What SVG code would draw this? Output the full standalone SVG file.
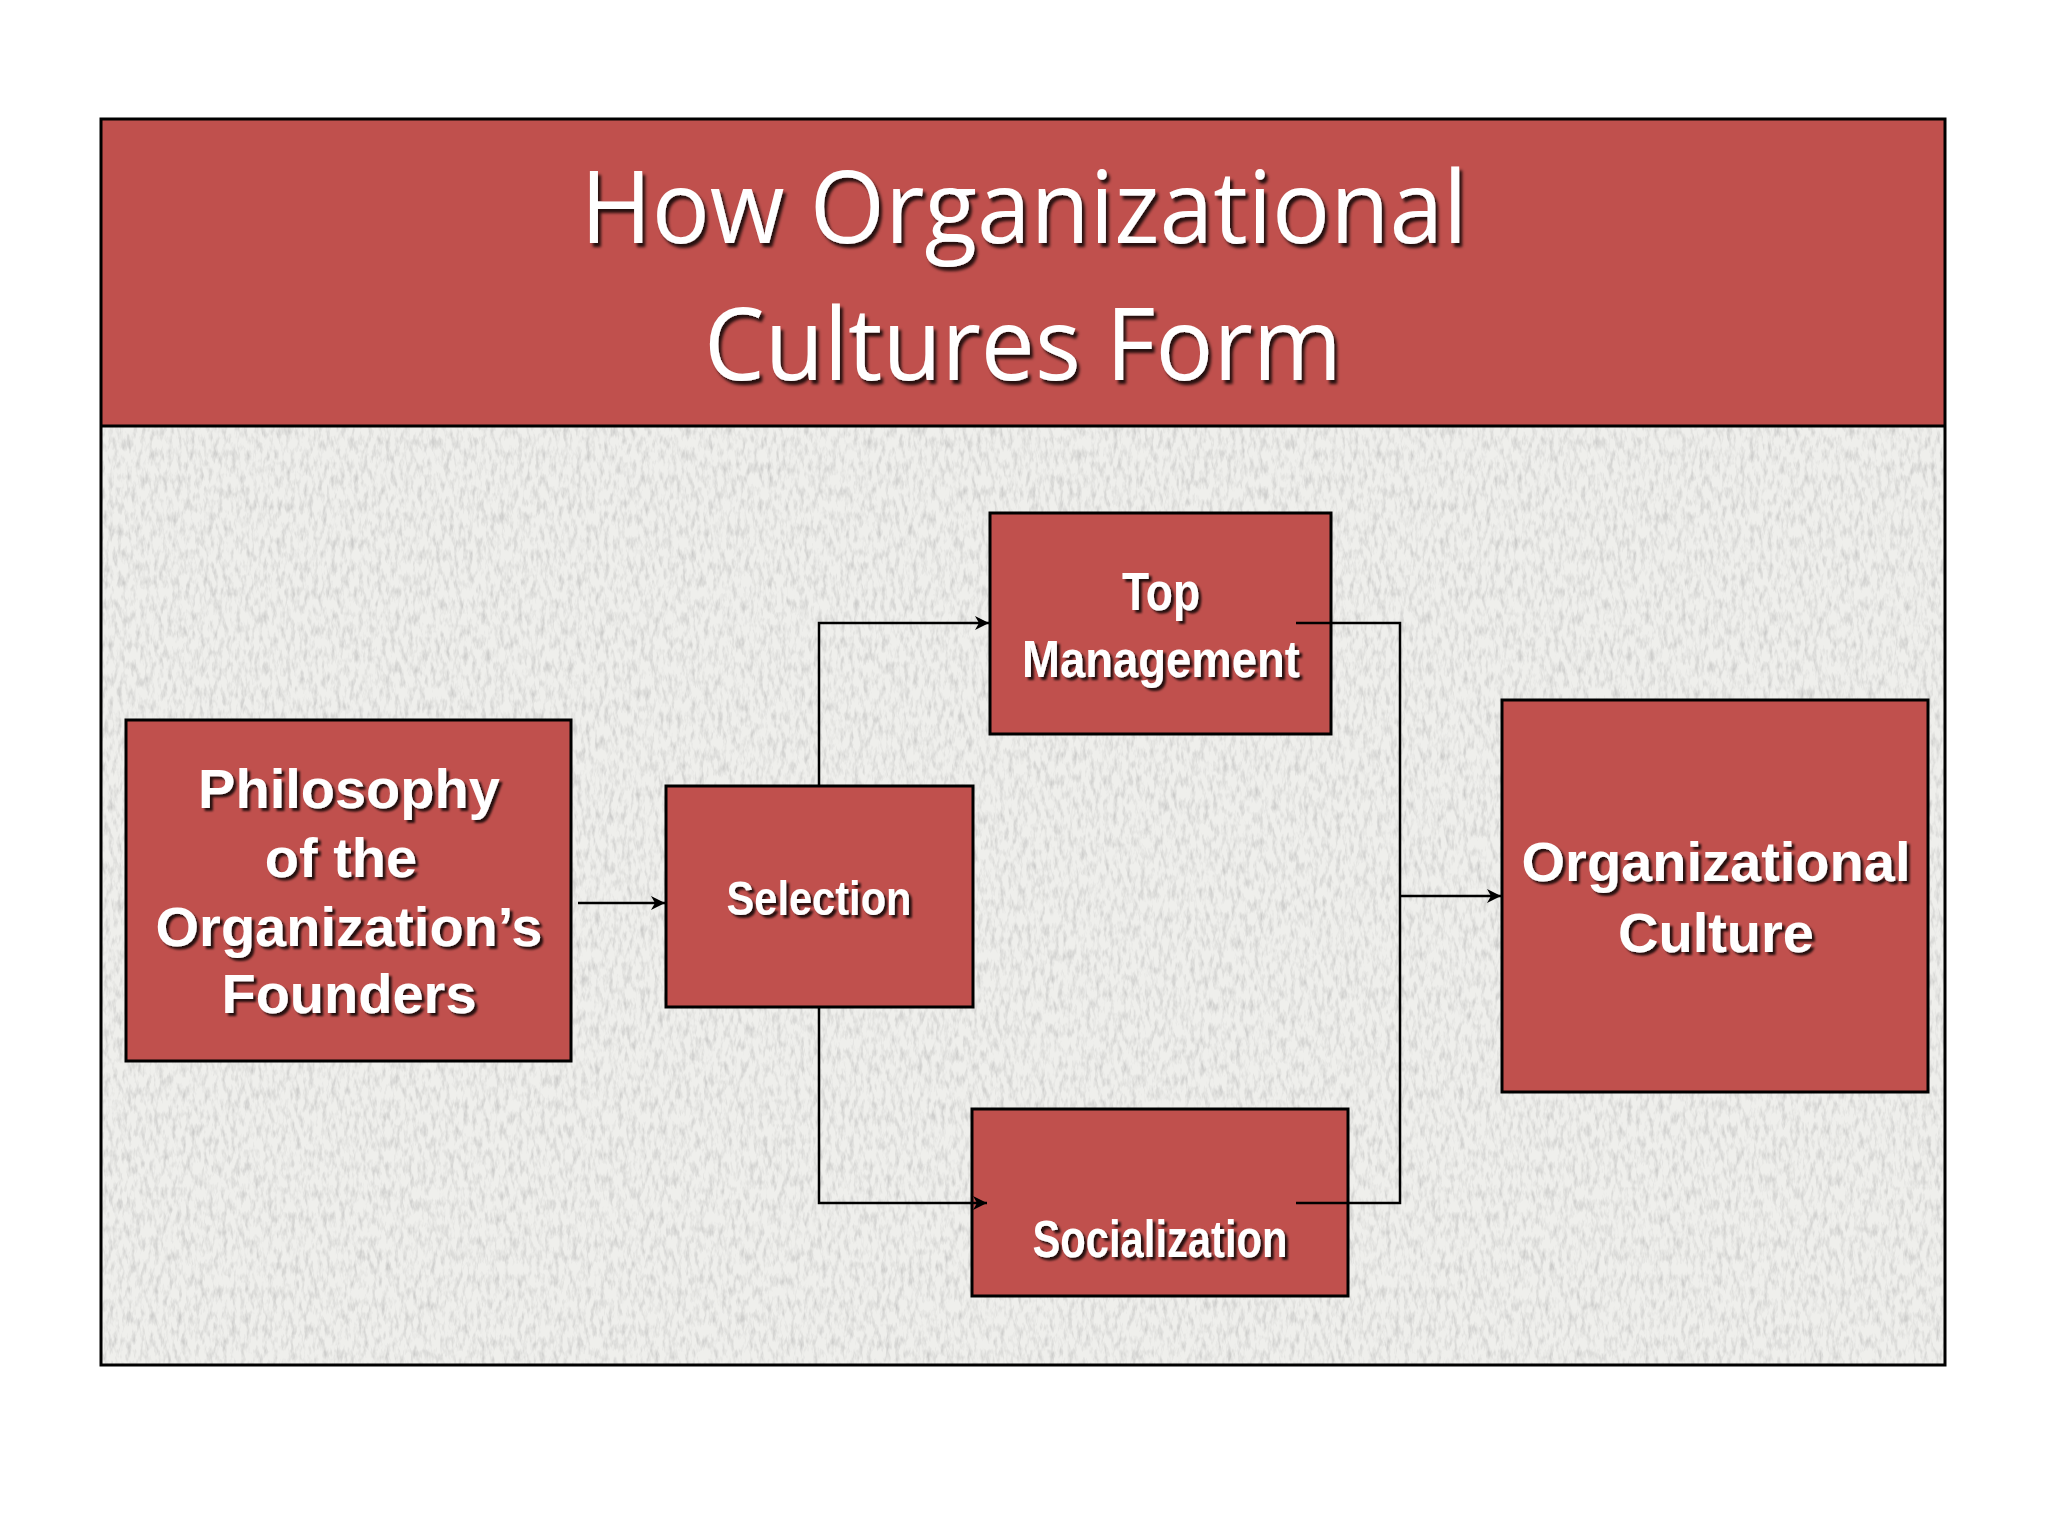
<svg xmlns="http://www.w3.org/2000/svg" width="2048" height="1536" viewBox="0 0 2048 1536">
  <defs>
    <style>
      .box { fill: #c0504d; stroke: #000; stroke-width: 3; }
      .lbl { font-family: "Liberation Sans", Arial, sans-serif; font-weight: bold; font-size: 56px; fill: #fff; text-anchor: middle; filter: url(#tshadow); }
      .ttl { font-family: "Open Sans", "Liberation Sans", sans-serif; font-size: 100px; fill: #fff; text-anchor: middle; filter: url(#tshadow2); }
      .conn { fill: none; stroke: #000; stroke-width: 2.5; }
    </style>
    <filter id="tshadow" x="-10%" y="-30%" width="130%" height="170%">
      <feDropShadow dx="3" dy="3" stdDeviation="1.2" flood-color="#000" flood-opacity="0.8"/>
    </filter>
    <filter id="tshadow2" x="-10%" y="-30%" width="130%" height="170%">
      <feDropShadow dx="3" dy="4" stdDeviation="1.5" flood-color="#000" flood-opacity="0.8"/>
    </filter>
    <filter id="tex" x="0" y="0" width="100%" height="100%">
      <feTurbulence type="fractalNoise" baseFrequency="0.22 0.08" numOctaves="3" seed="7" result="n"/>
      <feColorMatrix in="n" type="matrix" values="0 0 0 0 0.6  0 0 0 0 0.6  0 0 0 0 0.59  2.2 0 0 0 -0.95" result="spk"/>
      <feComposite in="spk" in2="SourceGraphic" operator="in" result="spk2"/>
      <feMerge>
        <feMergeNode in="SourceGraphic"/>
        <feMergeNode in="spk2"/>
      </feMerge>
    </filter>
    <marker id="arr" markerUnits="userSpaceOnUse" markerWidth="16" markerHeight="16" refX="14" refY="7" orient="auto">
      <path d="M0,0 L14,7 L0,14 L4,7 Z" fill="#000"/>
    </marker>
  </defs>

  <rect x="0" y="0" width="2048" height="1536" fill="#ffffff"/>

  <!-- textured body -->
  <rect x="101" y="426" width="1844" height="939" fill="#efefec" filter="url(#tex)"/>

  <!-- title band -->
  <g id="title">
    <rect x="101" y="119" width="1844" height="307" fill="#c0504d"/>
    <text class="ttl" x="1024" y="243" textLength="887" lengthAdjust="spacingAndGlyphs">How Organizational</text>
    <text class="ttl" x="1023" y="380" textLength="638" lengthAdjust="spacingAndGlyphs">Cultures Form</text>
  </g>

  <!-- frame -->
  <rect x="101" y="119" width="1844" height="1246" fill="none" stroke="#000" stroke-width="3"/>
  <line x1="101" y1="426" x2="1945" y2="426" stroke="#000" stroke-width="3"/>

  <g id="node-philosophy">
    <rect class="box" x="126" y="720" width="445" height="341"/>
    <text class="lbl" x="349" y="808">Philosophy</text>
    <text class="lbl" x="341" y="877">of the</text>
    <text class="lbl" x="349" y="946">Organization’s</text>
    <text class="lbl" x="349" y="1013">Founders</text>
  </g>

  <g id="node-selection">
    <rect class="box" x="666" y="786" width="307" height="221"/>
    <text class="lbl" x="819" y="915" style="font-size:48px" textLength="185" lengthAdjust="spacingAndGlyphs">Selection</text>
  </g>

  <g id="node-top-management">
    <rect class="box" x="990" y="513" width="341" height="221"/>
    <text class="lbl" x="1161" y="610" style="font-size:54px" textLength="78" lengthAdjust="spacingAndGlyphs">Top</text>
    <text class="lbl" x="1161" y="677" style="font-size:52px" textLength="278" lengthAdjust="spacingAndGlyphs">Management</text>
  </g>

  <g id="node-socialization">
    <rect class="box" x="972" y="1109" width="376" height="187"/>
    <text class="lbl" x="1160" y="1257" style="font-size:51px" textLength="255" lengthAdjust="spacingAndGlyphs">Socialization</text>
  </g>

  <g id="node-culture">
    <rect class="box" x="1502" y="700" width="426" height="392"/>
    <text class="lbl" x="1716" y="881">Organizational</text>
    <text class="lbl" x="1716" y="952">Culture</text>
  </g>

  <g id="connectors">
    <line class="conn" x1="578" y1="903" x2="665" y2="903" marker-end="url(#arr)"/>
    <path class="conn" d="M819,786 V623 H989" marker-end="url(#arr)"/>
    <path class="conn" d="M819,1007 V1203 H987" marker-end="url(#arr)"/>
    <path class="conn" d="M1296,623 H1400 V1203 H1296"/>
    <line class="conn" x1="1400" y1="896" x2="1501" y2="896" marker-end="url(#arr)"/>
  </g>
</svg>
